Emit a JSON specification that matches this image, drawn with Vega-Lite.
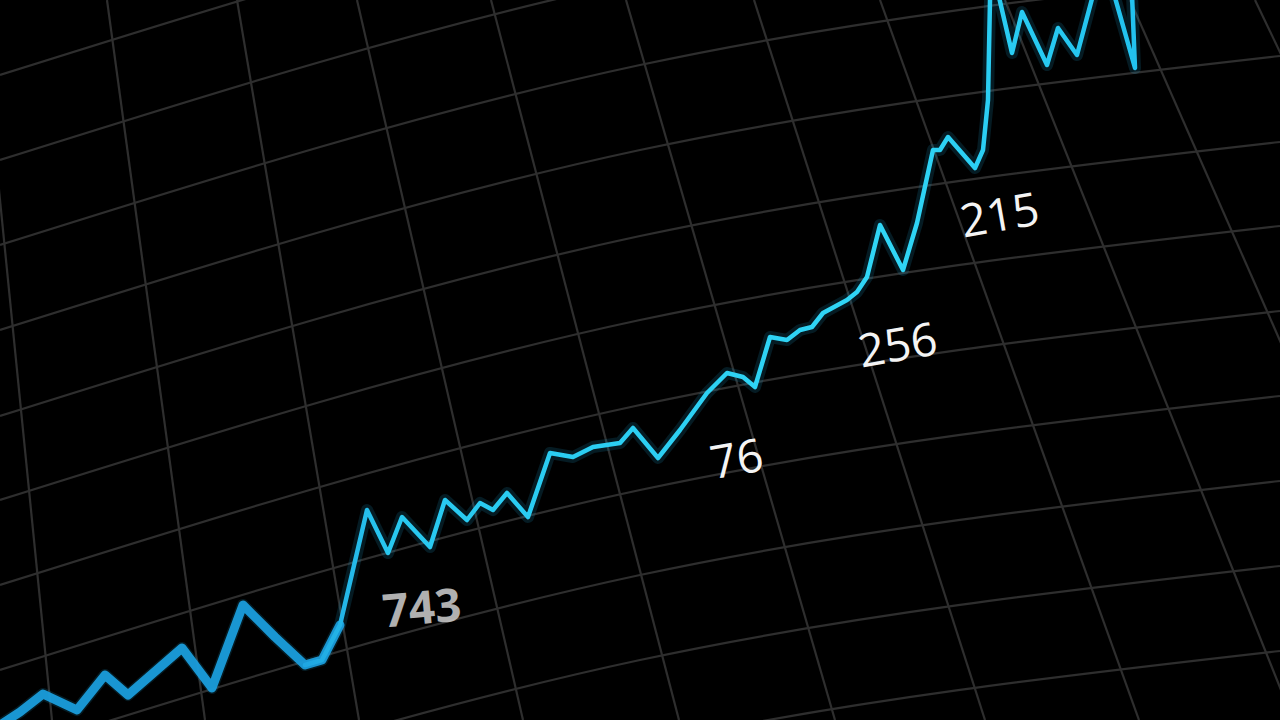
{
  "$schema": "https://vega.github.io/schema/vega-lite/v6.json",
  "width": 1280,
  "height": 720,
  "autosize": {"type": "fit", "contains": "padding"},
  "padding": 0,
  "background": "#000000",
  "config": {"view": {"stroke": null}},
  "datasets": {
    "hgrid": [
      {"id": "h0", "x": 0, "v": 645}, {"id": "h0", "x": 640, "v": 825}, {"id": "h0", "x": 1280, "v": 919},
      {"id": "h1", "x": 0, "v": 560}, {"id": "h1", "x": 640, "v": 740}, {"id": "h1", "x": 1280, "v": 834},
      {"id": "h2", "x": 0, "v": 475}, {"id": "h2", "x": 640, "v": 655}, {"id": "h2", "x": 1280, "v": 749},
      {"id": "h3", "x": 0, "v": 390}, {"id": "h3", "x": 640, "v": 570}, {"id": "h3", "x": 1280, "v": 664},
      {"id": "h4", "x": 0, "v": 304}, {"id": "h4", "x": 640, "v": 484}, {"id": "h4", "x": 1280, "v": 578},
      {"id": "h5", "x": 0, "v": 220}, {"id": "h5", "x": 640, "v": 400}, {"id": "h5", "x": 1280, "v": 494},
      {"id": "h6", "x": 0, "v": 135}, {"id": "h6", "x": 640, "v": 315}, {"id": "h6", "x": 1280, "v": 409},
      {"id": "h7", "x": 0, "v": 50}, {"id": "h7", "x": 640, "v": 230}, {"id": "h7", "x": 1280, "v": 324},
      {"id": "h8", "x": 0, "v": -35}, {"id": "h8", "x": 640, "v": 145}, {"id": "h8", "x": 1280, "v": 239},
      {"id": "h9", "x": 0, "v": -120}, {"id": "h9", "x": 640, "v": 60}, {"id": "h9", "x": 1280, "v": 154},
      {"id": "h10", "x": 0, "v": -205}, {"id": "h10", "x": 640, "v": -25}, {"id": "h10", "x": 1280, "v": 69},
      {"id": "h11", "x": 0, "v": -290}, {"id": "h11", "x": 640, "v": -110}, {"id": "h11", "x": 1280, "v": -16}
    ],
    "vgrid": [
      {"id": "v0", "x": -20, "v": 720}, {"id": "v0", "x": 52, "v": 0},
      {"id": "v1", "x": 107, "v": 720}, {"id": "v1", "x": 205, "v": 0},
      {"id": "v2", "x": 237, "v": 720}, {"id": "v2", "x": 359, "v": 0},
      {"id": "v3", "x": 357, "v": 720}, {"id": "v3", "x": 523, "v": 0},
      {"id": "v4", "x": 491, "v": 720}, {"id": "v4", "x": 679, "v": 0},
      {"id": "v5", "x": 626, "v": 720}, {"id": "v5", "x": 835, "v": 0},
      {"id": "v6", "x": 754, "v": 720}, {"id": "v6", "x": 985, "v": 0},
      {"id": "v7", "x": 880, "v": 720}, {"id": "v7", "x": 1139, "v": 0},
      {"id": "v8", "x": 1005, "v": 720}, {"id": "v8", "x": 1293, "v": 0},
      {"id": "v9", "x": 1130, "v": 720}, {"id": "v9", "x": 1447, "v": 0},
      {"id": "v10", "x": 1255, "v": 720}, {"id": "v10", "x": 1600, "v": 0}
    ],
    "path": [
      {"i": 0, "x": 0, "v": -5},
      {"i": 1, "x": 20, "v": 8},
      {"i": 2, "x": 43, "v": 26},
      {"i": 3, "x": 77, "v": 10},
      {"i": 4, "x": 105, "v": 45},
      {"i": 5, "x": 128, "v": 25},
      {"i": 6, "x": 182, "v": 72},
      {"i": 7, "x": 212, "v": 32},
      {"i": 8, "x": 243, "v": 115},
      {"i": 9, "x": 275, "v": 83},
      {"i": 10, "x": 305, "v": 55},
      {"i": 11, "x": 322, "v": 60},
      {"i": 12, "x": 340, "v": 95},
      {"i": 13, "x": 367, "v": 210},
      {"i": 14, "x": 388, "v": 167},
      {"i": 15, "x": 402, "v": 203},
      {"i": 16, "x": 430, "v": 173},
      {"i": 17, "x": 445, "v": 220},
      {"i": 18, "x": 467, "v": 200},
      {"i": 19, "x": 480, "v": 217},
      {"i": 20, "x": 493, "v": 210},
      {"i": 21, "x": 507, "v": 227},
      {"i": 22, "x": 528, "v": 203},
      {"i": 23, "x": 550, "v": 267},
      {"i": 24, "x": 573, "v": 263},
      {"i": 25, "x": 593, "v": 273},
      {"i": 26, "x": 620, "v": 277},
      {"i": 27, "x": 633, "v": 292},
      {"i": 28, "x": 658, "v": 262},
      {"i": 29, "x": 680, "v": 290},
      {"i": 30, "x": 707, "v": 327},
      {"i": 31, "x": 727, "v": 347},
      {"i": 32, "x": 743, "v": 343},
      {"i": 33, "x": 755, "v": 333},
      {"i": 34, "x": 770, "v": 383},
      {"i": 35, "x": 787, "v": 380},
      {"i": 36, "x": 800, "v": 390},
      {"i": 37, "x": 812, "v": 393},
      {"i": 38, "x": 823, "v": 407},
      {"i": 39, "x": 847, "v": 420},
      {"i": 40, "x": 857, "v": 428},
      {"i": 41, "x": 867, "v": 443},
      {"i": 42, "x": 880, "v": 495},
      {"i": 43, "x": 903, "v": 450},
      {"i": 44, "x": 917, "v": 497},
      {"i": 45, "x": 933, "v": 570},
      {"i": 46, "x": 940, "v": 570},
      {"i": 47, "x": 948, "v": 583},
      {"i": 48, "x": 975, "v": 552},
      {"i": 49, "x": 983, "v": 570},
      {"i": 50, "x": 988, "v": 620},
      {"i": 51, "x": 990, "v": 720},
      {"i": 52, "x": 995, "v": 740},
      {"i": 53, "x": 1012, "v": 667},
      {"i": 54, "x": 1022, "v": 708},
      {"i": 55, "x": 1047, "v": 655},
      {"i": 56, "x": 1058, "v": 692},
      {"i": 57, "x": 1077, "v": 665},
      {"i": 58, "x": 1097, "v": 740},
      {"i": 59, "x": 1110, "v": 740},
      {"i": 60, "x": 1135, "v": 652},
      {"i": 61, "x": 1131, "v": 750}
    ],
    "labels": [
      {"x": 422, "v": 110, "label": "743", "grp": "far"},
      {"x": 737, "v": 259, "label": "76", "grp": "near"},
      {"x": 898, "v": 373, "label": "256", "grp": "near"},
      {"x": 1000, "v": 503, "label": "215", "grp": "near"}
    ]
  },
  "encoding": {
    "x": {"field": "x", "type": "quantitative", "scale": {"domain": [0, 1280], "nice": false, "zero": false}, "axis": null},
    "y": {"field": "v", "type": "quantitative", "scale": {"domain": [0, 720], "nice": false, "zero": false}, "axis": null}
  },
  "layer": [
    {
      "data": {"name": "hgrid"},
      "mark": {"type": "line", "clip": true, "stroke": "#2e2e2e", "strokeWidth": 2.2, "interpolate": "monotone"},
      "encoding": {"detail": {"field": "id"}}
    },
    {
      "data": {"name": "vgrid"},
      "mark": {"type": "line", "clip": true, "stroke": "#2e2e2e", "strokeWidth": 2.2},
      "encoding": {"detail": {"field": "id"}}
    },
    {
      "data": {"name": "path"},
      "mark": {"type": "line", "clip": true, "stroke": "#20b8ee", "strokeWidth": 12, "opacity": 0.15, "strokeJoin": "round"},
      "encoding": {"order": {"field": "i", "type": "quantitative"}}
    },
    {
      "data": {"name": "path"},
      "transform": [{"filter": "datum.x <= 345"}],
      "mark": {"type": "line", "clip": true, "stroke": "#1a9ddc", "strokeWidth": 9, "opacity": 0.95, "strokeJoin": "round", "strokeCap": "round"},
      "encoding": {"order": {"field": "i", "type": "quantitative"}}
    },
    {
      "data": {"name": "path"},
      "transform": [{"filter": "datum.x >= 305"}],
      "mark": {
        "type": "line", "clip": true, "strokeWidth": 4.5, "strokeJoin": "round", "strokeCap": "round",
        "stroke": {"gradient": "linear", "x1": 0, "y1": 0, "x2": 1, "y2": 0,
          "stops": [{"offset": 0, "color": "#1fa6e2"}, {"offset": 0.1, "color": "#28c8f0"}, {"offset": 0.7, "color": "#30d6f6"}, {"offset": 1, "color": "#22c2ef"}]}
      },
      "encoding": {"order": {"field": "i", "type": "quantitative"}}
    },
    {
      "data": {"name": "labels"},
      "transform": [{"filter": "datum.grp == 'near'"}],
      "mark": {"type": "text", "font": "Open Sans", "fontSize": 46, "angle": -10, "color": "#f4f4f4", "align": "center", "baseline": "middle"},
      "encoding": {"text": {"field": "label"}}
    },
    {
      "data": {"name": "labels"},
      "transform": [{"filter": "datum.grp == 'far'"}],
      "mark": {"type": "text", "font": "Open Sans", "fontSize": 46, "fontWeight": "bold", "angle": -5, "color": "#cfcfcf", "opacity": 0.85, "align": "center", "baseline": "middle"},
      "encoding": {"text": {"field": "label"}}
    }
  ]
}
